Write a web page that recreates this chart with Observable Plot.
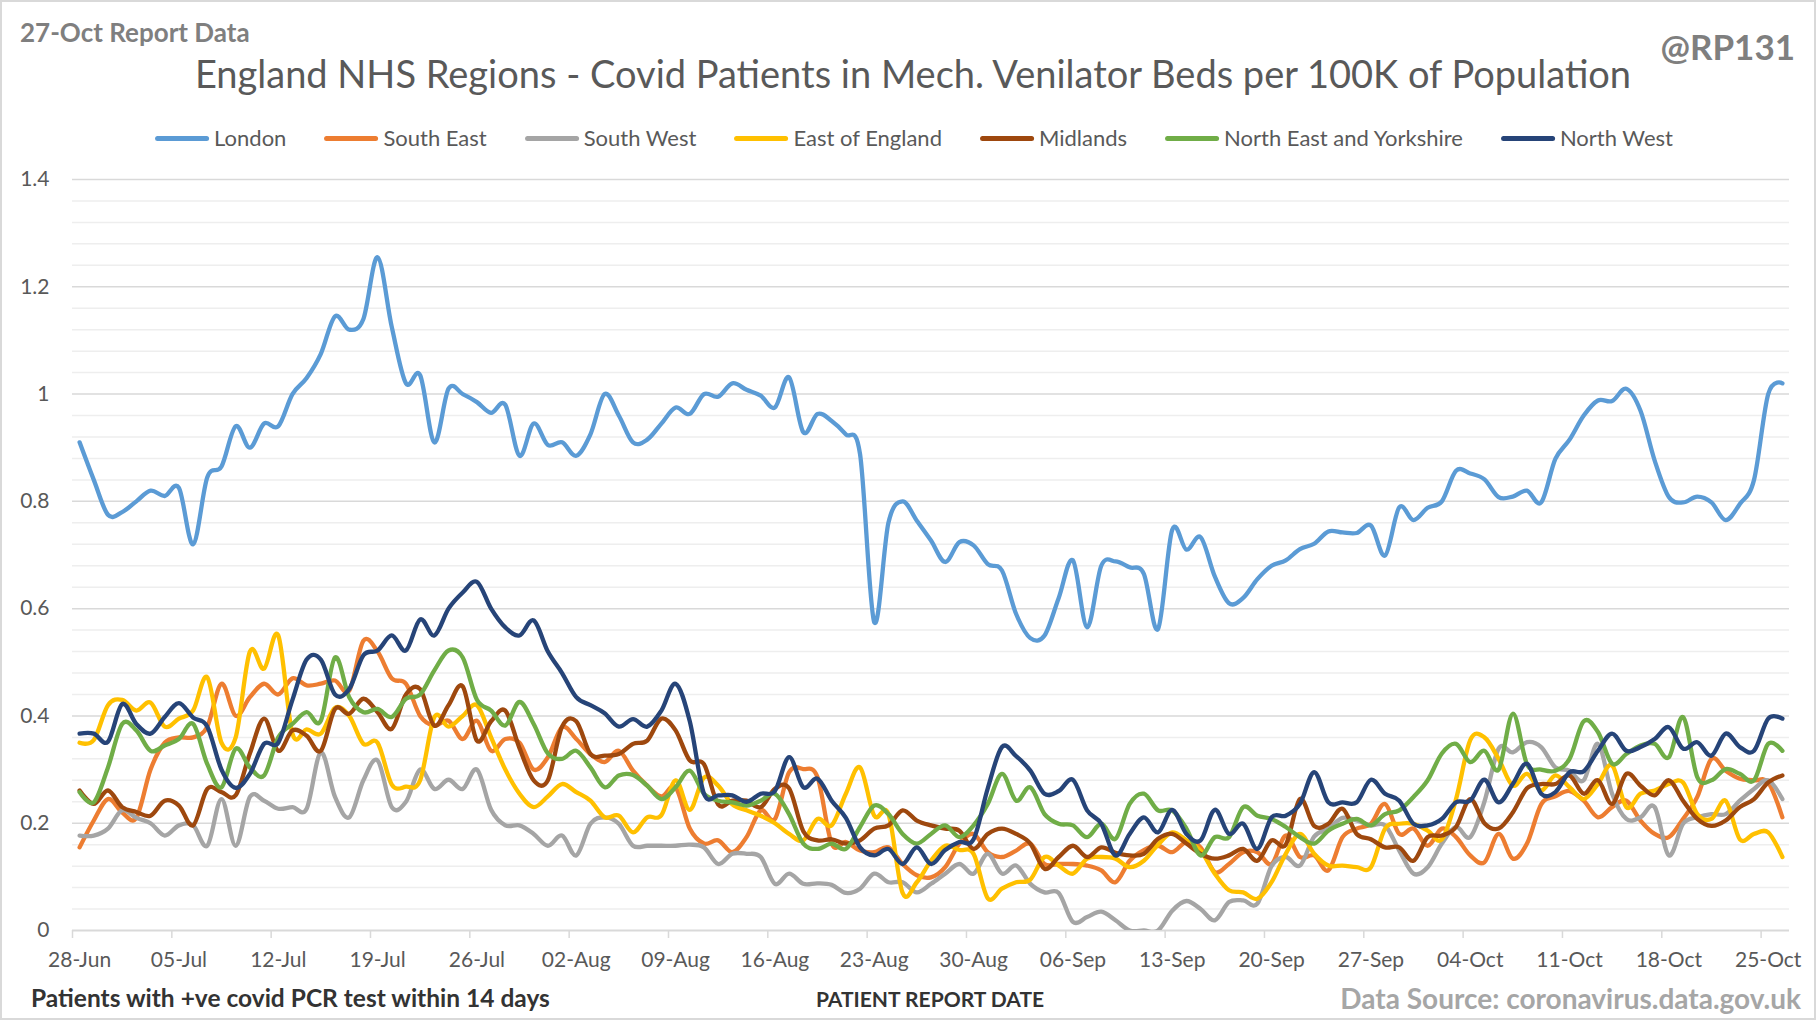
<!DOCTYPE html>
<html>
<head>
<meta charset="utf-8">
<script src="https://cdn.jsdelivr.net/npm/d3@7"></script>
<script src="https://cdn.jsdelivr.net/npm/@observablehq/plot@0.6"></script>
<style>
  html, body { margin: 0; padding: 0; background: #fff; }
  #chart { position: relative; width: 1816px; height: 1022px; overflow: hidden; background: #fff;
           font-family: Lato, "Open Sans", sans-serif; }
  #chart .frame { position: absolute; left: 0; top: 0; width: 1812px; height: 1016px; border: 2px solid #d9d9d9; pointer-events: none; }
  .txt { position: absolute; white-space: nowrap; line-height: 1; }
  #report { left: 20px; top: 32px; transform: translateY(-50%); font-size: 26px; font-weight: 700; color: #7f7f7f; }
  #handle { right: 21px; top: 46px; transform: translateY(-50%); font-size: 35px; font-weight: 700; color: #7f7f7f; }
  #title { left: 913px; top: 73px; transform: translate(-50%, -50%); font-size: 38px; color: #595959; }
  #legend { position: absolute; left: 914px; top: 138px; transform: translate(-50%, -50%); display: flex; gap: 38px; align-items: center; white-space: nowrap; }
  .item { display: flex; align-items: center; gap: 5px; font-size: 22px; color: #595959; line-height: 1; white-space: nowrap; flex: none; }
  .swatch { width: 54px; height: 5px; border-radius: 3px; flex: none; }
  #plot { position: absolute; left: 0; top: 150px; }
  #note { left: 31px; top: 998px; transform: translateY(-50%); font-size: 24.5px; font-weight: 700; color: #333; }
  #xlabel { left: 930px; top: 998px; transform: translate(-50%, -50%); font-size: 21px; font-weight: 700; color: #333; }
  #source { right: 15px; top: 998px; transform: translateY(-50%); font-size: 28px; font-weight: 700; color: #a6a6a6; }
</style>
</head>
<body>
<div id="chart">
  <div class="txt" id="report">27-Oct Report Data</div>
  <div class="txt" id="handle">@RP131</div>
  <div class="txt" id="title">England NHS Regions - Covid Patients in Mech. Venilator Beds per 100K of Population</div>
  <div id="legend"></div>
  <div id="plot"></div>
  <div class="txt" id="note">Patients with +ve covid PCR test within 14 days</div>
  <div class="txt" id="xlabel">PATIENT REPORT DATE</div>
  <div class="txt" id="source">Data Source: coronavirus.data.gov.uk</div>
  <div class="frame"></div>
</div>
<script>
// Regions in legend / drawing order, with their line colours
const regions = ["London", "South East", "South West", "East of England", "Midlands", "North East and Yorkshire", "North West"];
const colors = ["#5B9BD5", "#ED7D31", "#A5A5A5", "#FFC000", "#9E480E", "#70AD47", "#264478"];

// First reporting day; each series holds one value per day from here (28-Jun to 26-Oct)
const firstDate = "2021-06-28";

// Weekly axis labels
const weekLabels = ["28-Jun", "05-Jul", "12-Jul", "19-Jul", "26-Jul", "02-Aug", "09-Aug", "16-Aug", "23-Aug",
  "30-Aug", "06-Sep", "13-Sep", "20-Sep", "27-Sep", "04-Oct", "11-Oct", "18-Oct", "25-Oct"];

// Value axis labels
const yTicks = [0, 0.2, 0.4, 0.6, 0.8, 1.0, 1.2, 1.4];

// Patients in mechanical ventilator beds per 100K population, daily
const london = [
  0.91, 0.84, 0.775, 0.78, 0.80, 0.82, 0.81, 0.825, 0.72, 0.845,
  0.865, 0.94, 0.90, 0.945, 0.94, 1.0, 1.03, 1.075, 1.145, 1.12,
  1.14, 1.255, 1.125, 1.02, 1.035, 0.91, 1.01, 1.0, 0.985, 0.965,
  0.98, 0.885, 0.945, 0.905, 0.91, 0.885, 0.925, 1.0, 0.96, 0.91,
  0.915, 0.945, 0.975, 0.963, 1.0, 0.995, 1.02, 1.008, 0.997, 0.975,
  1.031, 0.929, 0.963, 0.95, 0.925, 0.888, 0.575, 0.76, 0.80, 0.764,
  0.727, 0.687, 0.724, 0.718, 0.683, 0.671, 0.59, 0.545, 0.55, 0.62,
  0.69, 0.565, 0.68, 0.688, 0.677, 0.665, 0.562, 0.747, 0.71, 0.733,
  0.66, 0.61, 0.62, 0.655, 0.68, 0.69, 0.711, 0.721, 0.744, 0.742,
  0.741, 0.755, 0.699, 0.789, 0.765, 0.788, 0.80, 0.857, 0.852, 0.841,
  0.808, 0.809, 0.82, 0.798, 0.879, 0.915, 0.96, 0.988, 0.987, 1.01,
  0.969, 0.876, 0.808, 0.798, 0.809, 0.798, 0.765, 0.795, 0.84, 1.0, 1.02
];
const southEast = [
  0.155, 0.205, 0.245, 0.22, 0.21, 0.30, 0.35, 0.36, 0.36, 0.38,
  0.46, 0.40, 0.435, 0.46, 0.44, 0.47, 0.457, 0.46, 0.466, 0.447,
  0.54, 0.52, 0.47, 0.46, 0.40, 0.382, 0.391, 0.357, 0.391, 0.335,
  0.357, 0.35, 0.30, 0.323, 0.379, 0.357, 0.329, 0.314, 0.335, 0.298,
  0.27, 0.25, 0.267, 0.19, 0.162, 0.168, 0.146, 0.174, 0.224, 0.208,
  0.295, 0.301, 0.286, 0.162, 0.165, 0.149, 0.146, 0.155, 0.124, 0.103,
  0.099, 0.118, 0.162, 0.18, 0.146, 0.137, 0.149, 0.162, 0.124, 0.124,
  0.124, 0.121, 0.112, 0.09, 0.13, 0.15, 0.158, 0.146, 0.165, 0.155,
  0.109, 0.124, 0.146, 0.146, 0.124, 0.177, 0.137, 0.14, 0.112, 0.174,
  0.19, 0.199, 0.236, 0.18, 0.19, 0.158, 0.19, 0.174, 0.14, 0.127,
  0.18, 0.134, 0.162, 0.235, 0.25, 0.26, 0.242, 0.211, 0.23, 0.242,
  0.205, 0.18, 0.174, 0.208, 0.249, 0.32, 0.298, 0.283, 0.28, 0.276, 0.211
];
const southWest = [
  0.177, 0.177, 0.19, 0.224, 0.21, 0.20, 0.177, 0.196, 0.196, 0.158,
  0.245, 0.158, 0.249, 0.242, 0.227, 0.23, 0.227, 0.332, 0.249, 0.211,
  0.28, 0.317, 0.23, 0.24, 0.30, 0.264, 0.281, 0.264, 0.30, 0.225,
  0.196, 0.196, 0.18, 0.158, 0.177, 0.14, 0.199, 0.211, 0.199, 0.158,
  0.158, 0.158, 0.158, 0.16, 0.155, 0.124, 0.143, 0.143, 0.137, 0.087,
  0.106, 0.087, 0.088, 0.085, 0.07, 0.078, 0.106, 0.09, 0.09, 0.071,
  0.087, 0.106, 0.124, 0.106, 0.143, 0.106, 0.121, 0.087, 0.071, 0.07,
  0.016, 0.025, 0.035, 0.019, 0, 0, 0, 0.037, 0.055, 0.04,
  0.019, 0.053, 0.056, 0.05, 0.12, 0.137, 0.121, 0.175, 0.19, 0.21,
  0.205, 0.196, 0.196, 0.149, 0.106, 0.118, 0.162, 0.193, 0.174, 0.24,
  0.339, 0.332, 0.351, 0.342, 0.304, 0.298, 0.28, 0.348, 0.255, 0.208,
  0.211, 0.23, 0.14, 0.199, 0.211, 0.217, 0.217, 0.242, 0.264, 0.28, 0.245
];
const eastOfEngland = [
  0.35, 0.355, 0.42, 0.43, 0.41, 0.425, 0.38, 0.395, 0.41, 0.472,
  0.35, 0.36, 0.52, 0.488, 0.55, 0.367, 0.375, 0.367, 0.415, 0.40,
  0.348, 0.35, 0.272, 0.268, 0.28, 0.398, 0.38, 0.40, 0.42, 0.36,
  0.30, 0.255, 0.23, 0.25, 0.273, 0.258, 0.242, 0.211, 0.214, 0.183,
  0.211, 0.215, 0.28, 0.225, 0.285, 0.27, 0.235, 0.224, 0.214, 0.20,
  0.18, 0.168, 0.208, 0.196, 0.255, 0.304, 0.214, 0.217, 0.07, 0.09,
  0.13, 0.158, 0.15, 0.143, 0.06, 0.078, 0.09, 0.095, 0.137, 0.121,
  0.106, 0.134, 0.137, 0.134, 0.118, 0.13, 0.16, 0.183, 0.168, 0.149,
  0.106, 0.075, 0.071, 0.059, 0.09, 0.143, 0.18, 0.143, 0.121, 0.121,
  0.118, 0.118, 0.19, 0.199, 0.199, 0.186, 0.17, 0.245, 0.355, 0.36,
  0.32, 0.27, 0.292, 0.261, 0.289, 0.267, 0.245, 0.273, 0.308, 0.23,
  0.255, 0.261, 0.273, 0.276, 0.217, 0.208, 0.242, 0.17, 0.18, 0.183, 0.137
];
const midlands = [
  0.261, 0.236, 0.261, 0.23, 0.221, 0.214, 0.242, 0.233, 0.196, 0.264,
  0.258, 0.252, 0.33, 0.395, 0.335, 0.373, 0.363, 0.335, 0.413, 0.404,
  0.432, 0.407, 0.376, 0.44, 0.45, 0.382, 0.42, 0.455, 0.354, 0.39,
  0.41, 0.34, 0.28, 0.28, 0.38, 0.39, 0.329, 0.326, 0.329, 0.348,
  0.354, 0.395, 0.373, 0.317, 0.31, 0.235, 0.242, 0.242, 0.23, 0.264,
  0.265, 0.185, 0.168, 0.17, 0.162, 0.168, 0.19, 0.196, 0.224, 0.205,
  0.196, 0.19, 0.186, 0.152, 0.18, 0.19, 0.18, 0.162, 0.115, 0.137,
  0.158, 0.137, 0.155, 0.145, 0.14, 0.143, 0.171, 0.18, 0.162, 0.143,
  0.134, 0.14, 0.152, 0.13, 0.168, 0.16, 0.245, 0.195, 0.199, 0.227,
  0.18, 0.17, 0.155, 0.155, 0.13, 0.174, 0.177, 0.193, 0.245, 0.20,
  0.19, 0.22, 0.265, 0.273, 0.273, 0.289, 0.255, 0.28, 0.236, 0.292,
  0.27, 0.252, 0.28, 0.242, 0.208, 0.195, 0.205, 0.23, 0.245, 0.276, 0.289
];
const northEastYorkshire = [
  0.258, 0.239, 0.304, 0.385, 0.373, 0.335, 0.345, 0.357, 0.385, 0.31,
  0.267, 0.339, 0.304, 0.289, 0.36, 0.385, 0.407, 0.391, 0.509, 0.435,
  0.407, 0.413, 0.398, 0.432, 0.44, 0.485, 0.522, 0.509, 0.43, 0.41,
  0.382, 0.426, 0.385, 0.33, 0.32, 0.335, 0.304, 0.267, 0.289, 0.29,
  0.27, 0.245, 0.267, 0.298, 0.255, 0.242, 0.239, 0.233, 0.242, 0.255,
  0.217, 0.162, 0.152, 0.162, 0.152, 0.193, 0.233, 0.217, 0.18, 0.162,
  0.18, 0.196, 0.174, 0.196, 0.236, 0.292, 0.242, 0.267, 0.217, 0.199,
  0.196, 0.174, 0.199, 0.171, 0.236, 0.255, 0.224, 0.224, 0.19, 0.14,
  0.174, 0.174, 0.23, 0.214, 0.208, 0.193, 0.174, 0.162, 0.186, 0.199,
  0.208, 0.196, 0.217, 0.224, 0.249, 0.28, 0.33, 0.348, 0.314, 0.335,
  0.30, 0.404, 0.31, 0.30, 0.298, 0.32, 0.39, 0.37, 0.311, 0.329,
  0.345, 0.348, 0.323, 0.398, 0.286, 0.28, 0.301, 0.292, 0.28, 0.348, 0.335
];
const northWest = [
  0.367, 0.367, 0.352, 0.422, 0.385, 0.367, 0.398, 0.424, 0.397, 0.38,
  0.30, 0.266, 0.292, 0.348, 0.35, 0.43, 0.505, 0.505, 0.44, 0.45,
  0.513, 0.522, 0.55, 0.522, 0.58, 0.55, 0.60, 0.63, 0.65, 0.60,
  0.565, 0.55, 0.578, 0.52, 0.48, 0.435, 0.42, 0.405, 0.38, 0.394,
  0.38, 0.41, 0.46, 0.39, 0.255, 0.252, 0.252, 0.24, 0.255, 0.26,
  0.323, 0.267, 0.283, 0.242, 0.21, 0.155, 0.14, 0.152, 0.124, 0.155,
  0.124, 0.15, 0.165, 0.17, 0.265, 0.342, 0.325, 0.298, 0.255, 0.26,
  0.281, 0.224, 0.199, 0.14, 0.18, 0.211, 0.183, 0.225, 0.18, 0.168,
  0.225, 0.18, 0.199, 0.152, 0.211, 0.214, 0.236, 0.295, 0.239, 0.239,
  0.239, 0.281, 0.255, 0.242, 0.199, 0.196, 0.208, 0.239, 0.242, 0.281,
  0.239, 0.273, 0.311, 0.255, 0.258, 0.295, 0.297, 0.335, 0.367, 0.335,
  0.342, 0.357, 0.379, 0.339, 0.351, 0.326, 0.367, 0.342, 0.335, 0.395, 0.395
];

const seriesValues = [london, southEast, southWest, eastOfEngland, midlands, northEastYorkshire, northWest];

// ---- build table ----
const DAY = 864e5;
const start = d3.utcParse("%Y-%m-%d")(firstDate);
const nDays = london.length;
// each day's point sits in the middle of its day slot
const rows = regions.flatMap((region, k) =>
  seriesValues[k].map((value, i) => ({region, date: new Date(+start + (i + 0.5) * DAY), value}))
);

const parseLabel = d3.utcParse("%d-%b-%Y");
const year = firstDate.slice(0, 4);
const weekStarts = weekLabels.map(l => parseLabel(`${l}-${year}`));
const weekMids = weekStarts.map(d => new Date(+d + DAY / 2));

// gridlines: major every 0.2, minor every 0.04
const majorGrid = yTicks.filter(v => v > 0);
const minorGrid = d3.range(1, 36).filter(k => k % 5 !== 0).map(k => k * 0.04);

// ---- legend ----
const legend = document.getElementById("legend");
regions.forEach((r, k) => {
  const item = document.createElement("div");
  item.className = "item";
  const sw = document.createElement("div");
  sw.className = "swatch";
  sw.style.background = colors[k];
  const label = document.createElement("span");
  label.textContent = r;
  item.append(sw, label);
  legend.append(item);
});

// ---- plot ----
const chart = Plot.plot({
  width: 1816,
  height: 830,
  marginTop: 29,
  marginBottom: 50,
  marginLeft: 72,
  marginRight: 27,
  style: {fontFamily: "Lato, 'Open Sans', sans-serif", fontSize: "21px", color: "#595959", background: "transparent", overflow: "visible"},
  x: {type: "utc", domain: [start, new Date(+start + nDays * DAY)]},
  y: {domain: [0, 1.4]},
  color: {domain: regions, range: colors},
  marks: [
    Plot.ruleY(minorGrid, {stroke: "#eeeeee", strokeWidth: 1.5}),
    Plot.ruleY(majorGrid, {stroke: "#d9d9d9", strokeWidth: 1.5}),
    Plot.ruleY([0], {stroke: "#d9d9d9", strokeWidth: 2}),
    Plot.axisY(yTicks, {tickSize: 0, tickPadding: 23, label: null, fontSize: 21,
      tickFormat: d => String(+d.toFixed(1))}),
    Plot.axisX(weekStarts, {tickSize: 8, label: null, tickFormat: () => "", stroke: "#d9d9d9", strokeWidth: 1.5}),
    Plot.axisX(weekMids, {tickSize: 0, tickPadding: 22, label: null, fontSize: 21,
      tickFormat: d3.utcFormat("%d-%b")}),
    Plot.line(rows, {x: "date", y: "value", z: "region", stroke: "region", strokeWidth: 4.3,
      curve: "cardinal", clip: true, strokeLinejoin: "round", strokeLinecap: "round"})
  ]
});
document.getElementById("plot").append(chart);
</script>
</body>
</html>
